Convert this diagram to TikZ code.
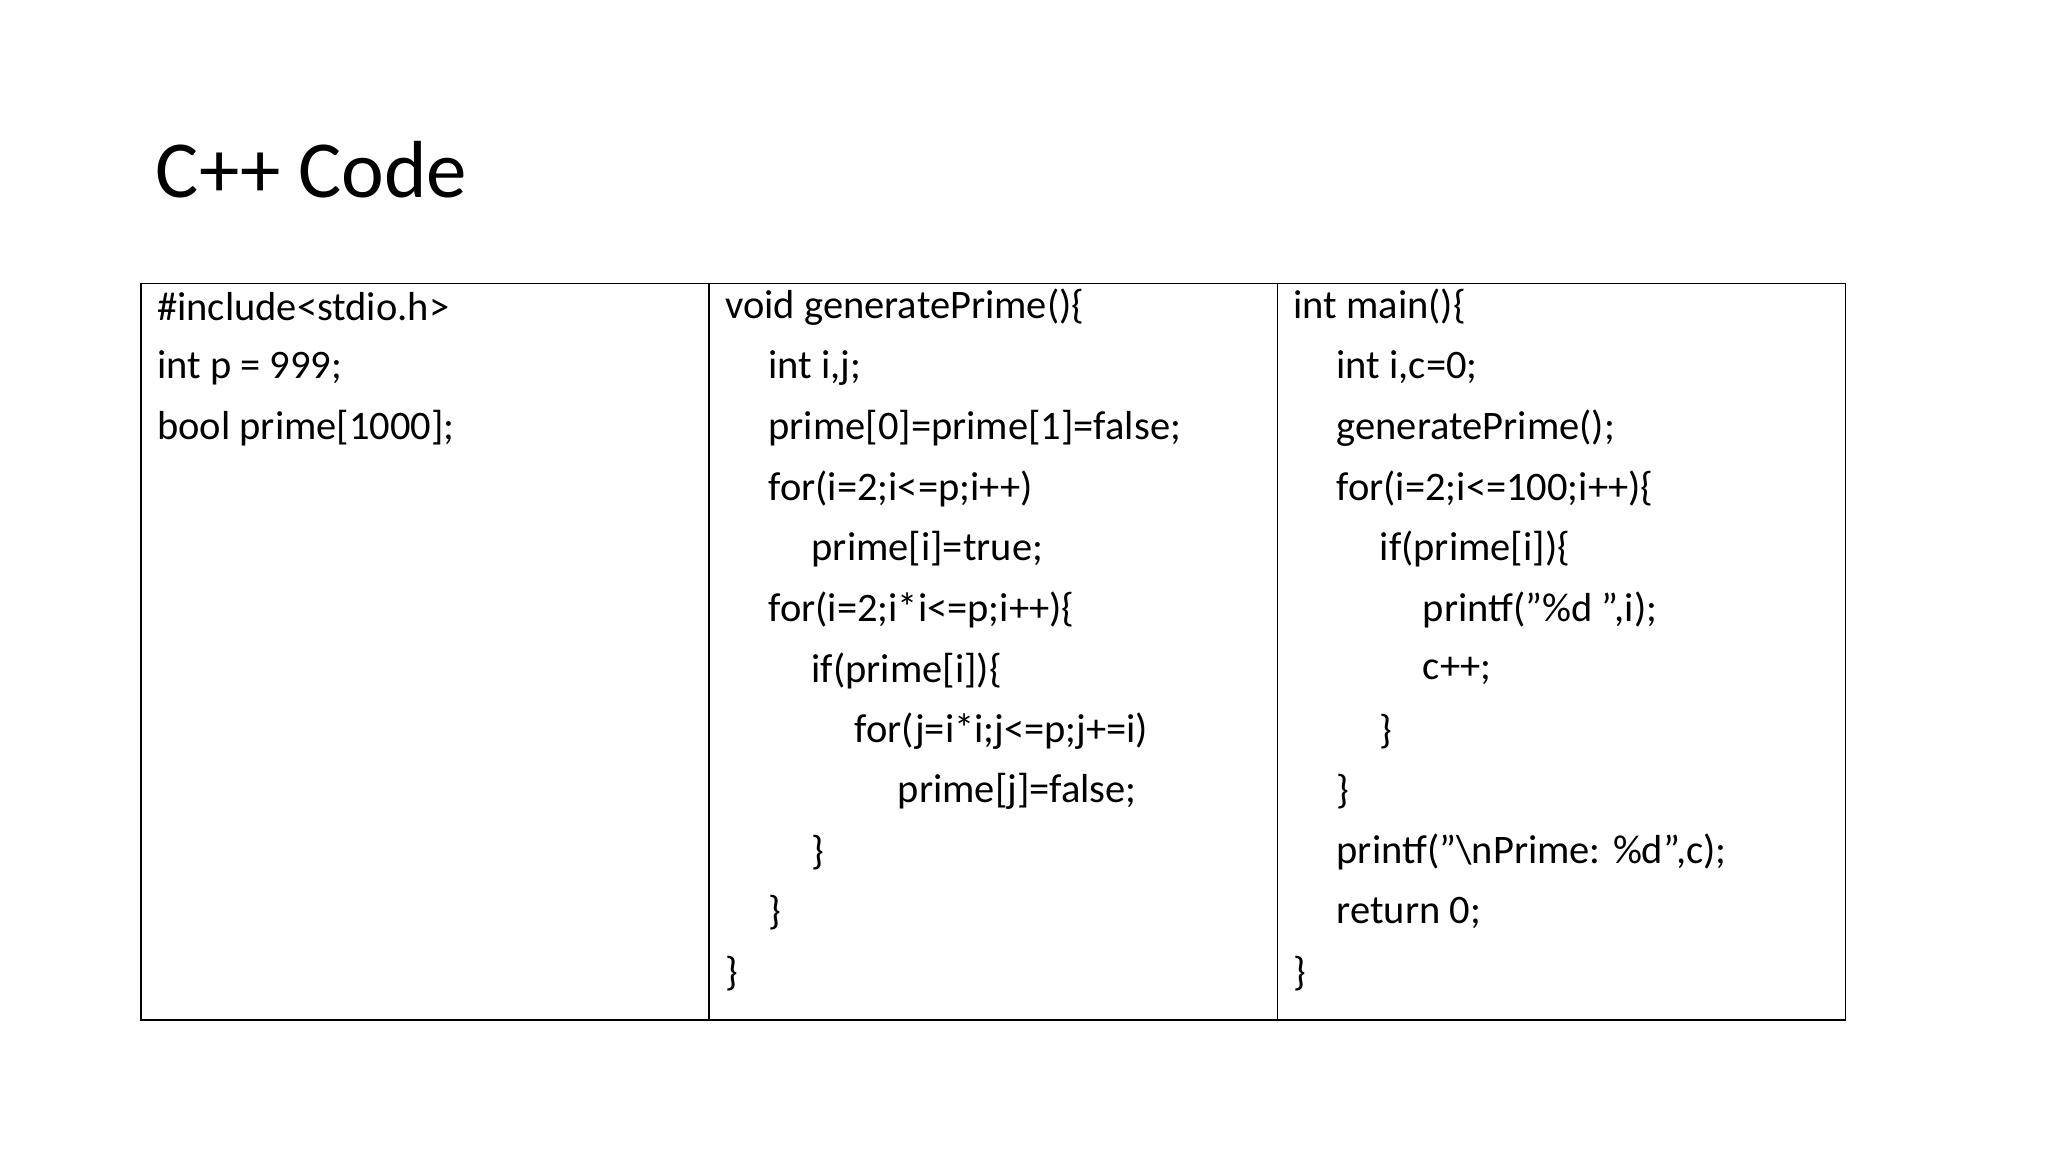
\documentclass[tikz,border=0pt]{standalone}
\usepackage{fontspec}
\setmainfont{Carlito}
\begin{document}
\begin{tikzpicture}[x=0.5pt,y=-0.5pt,
 code/.style={anchor=west,inner sep=0pt,font=\fontsize{15.5pt}{18pt}\selectfont},
 cell/.style={draw,line width=0.6pt}]
\useasboundingbox (0,0) rectangle (1568,882);
\node[anchor=west,inner sep=0pt,font=\fontsize{31pt}{36pt}\selectfont] (title) at (119,130) {C++ Code};
\draw[cell] (108,217) rectangle (543,781);
\draw[cell] (543,217) rectangle (978,781);
\draw[cell] (978,217) rectangle (1413,781);
\def\L{46.4}
% column 1
\node[code] (a1) at (120,235) {\#include<stdio.h>};
\node[code] (a2) at (120,235+\L) {int p = 999;};
\node[code] (a3) at (120,235+2*\L) {bool prime[1000];};
% column 2
\node[code] (b1) at (555,235) {void generatePrime()\{};
\node[code] (b2) at (588,235+\L) {int i,j;};
\node[code] (b3) at (588,235+2*\L) {prime[0]=prime[1]=false;};
\node[code] (b4) at (588,235+3*\L) {for(i=2;i<=p;i++)};
\node[code] (b5) at (621,235+4*\L) {prime[i]=true;};
\node[code] (b6) at (588,235+5*\L) {for(i=2;i*i<=p;i++)\{};
\node[code] (b7) at (621,235+6*\L) {if(prime[i])\{};
\node[code] (b8) at (654,235+7*\L) {for(j=i*i;j<=p;j+=i)};
\node[code] (b9) at (687,235+8*\L) {prime[j]=false;};
\node[code] (b10) at (621,235+9*\L) {\}};
\node[code] (b11) at (588,235+10*\L) {\}};
\node[code] (b12) at (555,235+11*\L) {\}};
% column 3
\node[code] (c1) at (990,235) {int main()\{};
\node[code] (c2) at (1023,235+\L) {int i,c=0;};
\node[code] (c3) at (1023,235+2*\L) {generatePrime();};
\node[code] (c4) at (1023,235+3*\L) {for(i=2;i<=100;i++)\{};
\node[code] (c5) at (1056,235+4*\L) {if(prime[i])\{};
\node[code] (c6) at (1089,235+5*\L) {printf("\%d ",i);};
\node[code] (c7) at (1089,235+6*\L) {c++;};
\node[code] (c8) at (1056,235+7*\L) {\}};
\node[code] (c9) at (1023,235+8*\L) {\}};
\node[code] (c10) at (1023,235+9*\L) {printf("\textbackslash nPrime: \%d",c);};
\node[code] (c11) at (1023,235+10*\L) {return 0;};
\node[code] (c12) at (990,235+11*\L) {\}};
\end{tikzpicture}
\end{document}
